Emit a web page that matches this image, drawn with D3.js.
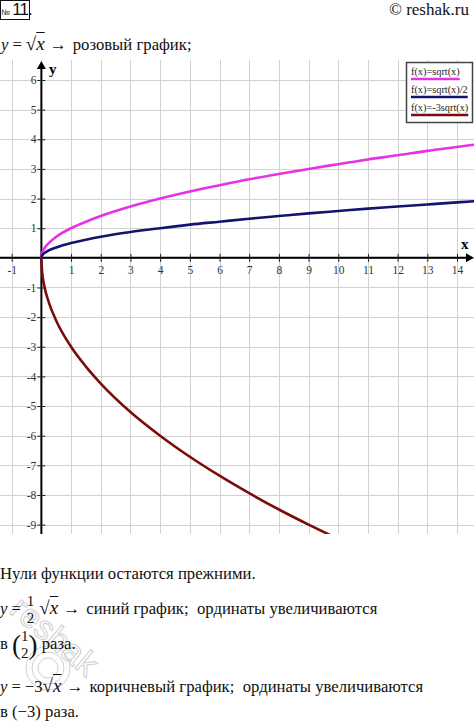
<!DOCTYPE html>
<html><head><meta charset="utf-8">
<script src="https://cdn.jsdelivr.net/npm/d3@7"></script>
<style>
html,body{margin:0;padding:0;background:#fff;}
body{width:474px;height:723px;position:relative;overflow:hidden;font-family:"Liberation Serif","DejaVu Serif",serif;color:#111;}
.t{position:absolute;white-space:nowrap;font-size:16.7px;line-height:1;}
.i{font-style:italic;}
.ov{text-decoration:overline;}
.eq{margin:0 4px;}
.sq{font-size:19px;}
.ar{margin:0 6px 0 5px;font-size:17px;}
.frac{display:inline-block;vertical-align:middle;text-align:center;font-size:15px;line-height:17px;margin:0 5px 0 2px;}
.frac span{display:block;}
svg{position:absolute;left:0;top:0;}
</style></head>
<body>
<svg id="wm" width="474" height="723" style="position:absolute;left:0;top:0;">
  <g fill="none" stroke="#cfcfcf" stroke-width="1">
    <circle cx="48" cy="668" r="22"/><circle cx="48" cy="668" r="16"/><circle cx="48" cy="668" r="10"/>
    <text x="8" y="612" font-size="34" font-family="Liberation Sans, sans-serif" transform="rotate(40 8 612)">reshak</text>
  </g>
</svg>
<div class="t" style="left:0;top:0;width:28px;height:18px;border:1.5px solid #111;font-size:17px;font-family:'Liberation Sans Narrow','Liberation Sans',sans-serif;letter-spacing:-1px;"><span style="font-size:8px">№</span> 11.</div>
<div class="t" style="left:389px;top:1px;font-size:17px;">© reshak.ru</div>
<div class="t" style="left:1px;top:34px;"><span class="i">y</span><span class="eq">=</span><span class="sq">√</span><span class="i ov sq">x</span><span class="ar">→</span>розовый график;</div>

<div class="t" style="left:0;top:566px;">Нули функции остаются прежними.</div>
<div class="t" style="left:0;top:593px;"><span class="i">y</span><span class="eq">=</span><span class="frac"><span>1</span><span>2</span></span><span class="sq">√</span><span class="i ov sq">x</span><span class="ar">→</span>синий график;&nbsp; ординаты увеличиваются</div>
<div class="t" style="left:0;top:628px;">в <span style="font-size:27px;vertical-align:middle">(</span><span class="frac" style="margin:0"><span>1</span><span>2</span></span><span style="font-size:27px;vertical-align:middle">)</span> раза.</div>
<div class="t" style="left:0;top:676px;"><span class="i">y</span><span class="eq">=</span>−3<span class="sq">√</span><span class="i ov sq">x</span><span class="ar">→</span>коричневый график;&nbsp; ординаты увеличиваются</div>
<div class="t" style="left:0;top:704px;">в (−3) раза.</div>

<svg id="chart" width="474" height="723"></svg>
<script>
// ---- data ----
const xTicks = [-1,1,2,3,4,5,6,7,8,9,10,11,12,13,14];
const yTicks = [-9,-8,-7,-6,-5,-4,-3,-2,-1,1,2,3,4,5,6];
const gridX = [-1,0,1,2,3,4,5,6,7,8,9,10,11,12,13,14];
const gridY = [-9,-8,-7,-6,-5,-4,-3,-2,-1,0,1,2,3,4,5,6];

const pinkX = [0,0.02,0.1,0.25,0.5,1,1.5,2,3,4,5,6,7,8,9,10,11,12,13,14,14.6];
const pinkY = [0,0.14,0.32,0.5,0.71,1,1.22,1.41,1.73,2,2.24,2.45,2.65,2.83,3,3.16,3.32,3.46,3.61,3.74,3.82];
const blueX = [0,0.02,0.1,0.25,0.5,1,1.5,2,3,4,5,6,7,8,9,10,11,12,13,14,14.6];
const blueY = [0,0.07,0.16,0.25,0.35,0.5,0.61,0.71,0.87,1,1.12,1.22,1.32,1.41,1.5,1.58,1.66,1.73,1.8,1.87,1.91];
const brownX = [0,0.02,0.1,0.25,0.5,1,1.5,2,3,4,5,6,7,8,9,9.8];
const brownY = [0,-0.42,-0.95,-1.5,-2.12,-3,-3.67,-4.24,-5.2,-6,-6.71,-7.35,-7.94,-8.49,-9,-9.39];

const legendLabels = ["f(x)=sqrt(x)","f(x)=sqrt(x)/2","f(x)=-3sqrt(x)"];
const colors = ["#e632e6","#14146e","#7a0c0c"];

// ---- drawing ----
(function(){
const svg = d3.select("#chart");
const x = d3.scaleLinear().domain([-1,14]).range([11.7,457]);
const y = d3.scaleLinear().domain([-9,6]).range([524.6,80]);
const pTop = 60, pBottom = 534, pLeft = 0, pRight = 474;
const serif = "Liberation Serif, DejaVu Serif, serif";

svg.append("defs").append("clipPath").attr("id","clip")
  .append("rect").attr("x",pLeft).attr("y",pTop).attr("width",pRight-pLeft).attr("height",pBottom-pTop);

const grid = svg.append("g").attr("stroke","#d2d2d2").attr("stroke-width",1);
grid.selectAll(".gx").data(gridX).join("line").attr("class","gx")
  .attr("x1",d=>Math.round(x(d))+0.5).attr("x2",d=>Math.round(x(d))+0.5).attr("y1",pTop).attr("y2",pBottom);
grid.selectAll(".gy").data(gridY).join("line").attr("class","gy")
  .attr("y1",d=>Math.round(y(d))+0.5).attr("y2",d=>Math.round(y(d))+0.5).attr("x1",pLeft).attr("x2",pRight);

// axes
const ax = svg.append("g");
ax.append("line").attr("x1",pLeft).attr("x2",468).attr("y1",y(0)).attr("y2",y(0)).attr("stroke","#000").attr("stroke-width",2);
ax.append("path").attr("d",`M474,${y(0)} L466,${y(0)-4.5} L466,${y(0)+4.5} Z`).attr("fill","#000");
ax.append("line").attr("x1",x(0)).attr("x2",x(0)).attr("y1",pBottom).attr("y2",68).attr("stroke","#000").attr("stroke-width",2);
ax.append("path").attr("d",`M${x(0)},61 L${x(0)-4.5},69 L${x(0)+4.5},69 Z`).attr("fill","#000");

const xAxis = d3.axisBottom(x).tickValues(xTicks).tickSize(4).tickFormat(d=>String(d));
const gx = svg.append("g").attr("transform",`translate(0,${y(0)})`).call(xAxis);
gx.select(".domain").remove();
gx.selectAll(".tick line").attr("y1",-4).attr("stroke","#222");
gx.selectAll(".tick text").attr("y",8).attr("font-family",serif).attr("font-size",11.5).attr("fill","#333");

const yAxis = d3.axisLeft(y).tickValues(yTicks).tickSize(4).tickFormat(d=>String(d));
const gy = svg.append("g").attr("transform",`translate(${x(0)},0)`).call(yAxis);
gy.select(".domain").remove();
gy.selectAll(".tick line").attr("x1",4).attr("stroke","#222");
gy.selectAll(".tick text").attr("x",-5).attr("font-family",serif).attr("font-size",11.5).attr("fill","#333");

svg.append("text").attr("x",461).attr("y",249).attr("font-family",serif).attr("font-weight","bold").attr("font-size",15).text("x");
svg.append("text").attr("x",49).attr("y",74).attr("font-family",serif).attr("font-weight","bold").attr("font-size",15).text("y");

// curves
const line = d3.line().x(d=>x(d[0])).y(d=>y(d[1])).curve(d3.curveMonotoneX);
const series = [d3.zip(pinkX,pinkY), d3.zip(blueX,blueY), d3.zip(brownX,brownY)];
const cg = svg.append("g").attr("clip-path","url(#clip)");
cg.selectAll("path").data(series).join("path")
  .attr("d",line).attr("fill","none").attr("stroke",(d,i)=>colors[i]).attr("stroke-width",2.6);

// legend
const lg = svg.append("g");
lg.append("rect").attr("x",406.5).attr("y",62.5).attr("width",66).attr("height",60)
  .attr("fill","#fff").attr("stroke","#444").attr("stroke-width",1.5);
const le = lg.selectAll("g.e").data(legendLabels).join("g").attr("class","e").attr("transform",(d,i)=>`translate(411,${75+i*18})`);
le.append("text").attr("x",0).attr("y",0).attr("font-family",serif).attr("font-size",10.3).attr("fill","#222").text(d=>d);
le.each(function(d,i){
  const g = d3.select(this);
  const w = g.select("text").node().getComputedTextLength();
  g.append("line").attr("x1",0).attr("x2",w).attr("y1",4).attr("y2",4).attr("stroke",colors[i]).attr("stroke-width",2.5);
});
})();
</script>
</body></html>
